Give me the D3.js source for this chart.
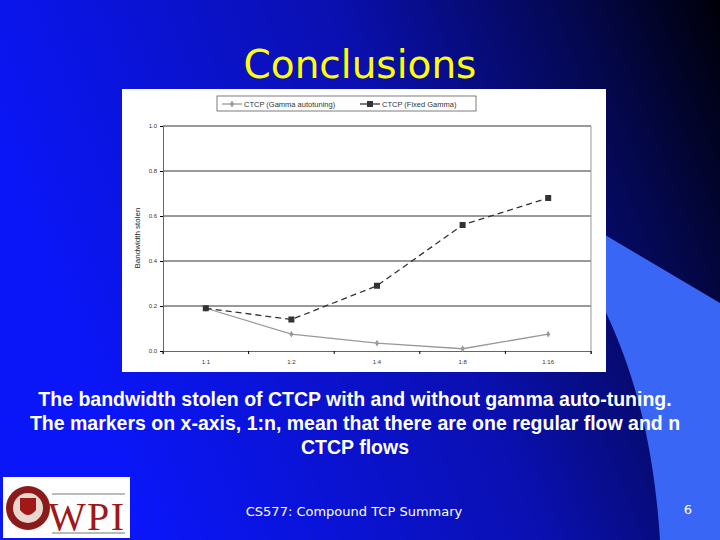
<!DOCTYPE html>
<html><head><meta charset="utf-8">
<script src="https://cdn.jsdelivr.net/npm/d3@7"></script>
<style>body{margin:0}svg{display:block}</style>
</head><body>
<svg id="slide" width="720" height="540"></svg>
<script>
const categories = ["1:1", "1:2", "1:4", "1:8", "1:16"];
const autoTuning = [0.19, 0.075, 0.035, 0.01, 0.075];
const fixedGamma = [0.19, 0.14, 0.29, 0.56, 0.68];
const yTicks = [0, 0.2, 0.4, 0.6, 0.8, 1.0];

const svg = d3.select("#slide");
const defs = svg.append("defs");
const grad = defs.append("linearGradient").attr("id", "bg").attr("x1", 0).attr("x2", 1).attr("y1", 0.3).attr("y2", 0);
grad.append("stop").attr("offset", "0%").attr("stop-color", "#0a16f8");
grad.append("stop").attr("offset", "50%").attr("stop-color", "#0a10b0");
grad.append("stop").attr("offset", "80%").attr("stop-color", "#040850");
grad.append("stop").attr("offset", "100%").attr("stop-color", "#000008");
svg.append("rect").attr("width", 720).attr("height", 540).attr("fill", "url(#bg)");

// light blue swoosh at lower right
svg.append("path")
    .attr("d", "M600,232 L720,303 L720,540 L660,540 C655,460 640,380 600,300 Z")
    .attr("fill", "#3a66f5");

svg.append("text").attr("x", 360).attr("y", 78).attr("text-anchor", "middle")
    .attr("fill", "#ffff00").style("font-family", "'Comic Sans MS','DejaVu Sans'")
    .style("font-size", "39px").text("Conclusions");

// chart picture
svg.append("rect").attr("x", 122).attr("y", 89).attr("width", 484).attr("height", 283).attr("fill", "#fff");

const x = d3.scaleBand().domain(categories).range([163, 591]);
const y = d3.scaleLinear().domain([0, 1]).range([351, 126]);
const g = svg.append("g");

g.selectAll("line.grid").data(yTicks.slice(1)).join("line").attr("class", "grid")
    .attr("x1", 163).attr("x2", 591).attr("y1", y).attr("y2", y)
    .attr("stroke", "#000").attr("stroke-width", 0.8);
g.append("line").attr("x1", 591).attr("x2", 591).attr("y1", 126).attr("y2", 351).attr("stroke", "#999");

const yAxis = g.append("g").attr("transform", "translate(163,0)")
    .call(d3.axisLeft(y).tickValues(yTicks).tickFormat(d3.format(".1f")).tickSize(3));
const xAxis = g.append("g").attr("transform", "translate(0,351)")
    .call(d3.axisBottom(x).tickSize(3));
xAxis.selectAll(".tick line").attr("transform", `translate(${-x.bandwidth() / 2},0)`);
xAxis.append("line").attr("x1", 591).attr("x2", 591).attr("y1", 0).attr("y2", 3).attr("stroke", "#000");
[yAxis, xAxis].forEach(a => {
    a.selectAll("text").style("font-family", "Arial, 'Liberation Sans'").style("font-size", "6px").attr("fill", "#333");
    a.select(".domain").attr("stroke", "#666");
});
xAxis.selectAll("text").attr("dy", "1.2em");

g.append("text").attr("transform", "translate(140,238) rotate(-90)").attr("text-anchor", "middle")
    .style("font-family", "Arial, 'Liberation Sans'").style("font-size", "8px").attr("fill", "#222").text("Bandwidth stolen");

const cx = d => x(d) + x.bandwidth() / 2;
const line = d3.line().x((d, i) => cx(categories[i])).y(d => y(d));
g.append("path").datum(autoTuning).attr("d", line).attr("fill", "none").attr("stroke", "#999").attr("stroke-width", 1.3);
g.append("path").datum(fixedGamma).attr("d", line).attr("fill", "none").attr("stroke", "#333")
    .attr("stroke-width", 1.3).attr("stroke-dasharray", "6,4");
g.selectAll("path.dia").data(autoTuning).join("path").attr("class", "dia")
    .attr("transform", (d, i) => `translate(${cx(categories[i])},${y(d)})`)
    .attr("d", d3.symbol(d3.symbolDiamond, 14)).attr("fill", "#999");
g.selectAll("rect.sq").data(fixedGamma).join("rect").attr("class", "sq")
    .attr("x", (d, i) => cx(categories[i]) - 3).attr("y", d => y(d) - 3)
    .attr("width", 6).attr("height", 6).attr("fill", "#333");

// legend
const lg = g.append("g").style("font-family", "Arial, 'Liberation Sans'").style("font-size", "7.5px");
lg.append("rect").attr("x", 217).attr("y", 96).attr("width", 259).attr("height", 15).attr("fill", "#fff").attr("stroke", "#444").attr("stroke-width", 0.7);
lg.append("line").attr("x1", 222).attr("x2", 242).attr("y1", 104).attr("y2", 104).attr("stroke", "#999").attr("stroke-width", 1.3);
lg.append("path").attr("transform", "translate(232,104)").attr("d", d3.symbol(d3.symbolDiamond, 14)).attr("fill", "#999");
lg.append("text").attr("x", 244).attr("y", 107).attr("fill", "#333").text("CTCP (Gamma autotuning)");
lg.append("line").attr("x1", 360).attr("x2", 380).attr("y1", 104).attr("y2", 104).attr("stroke", "#333").attr("stroke-width", 1.3);
lg.append("rect").attr("x", 367).attr("y", 101).attr("width", 6).attr("height", 6).attr("fill", "#333");
lg.append("text").attr("x", 382).attr("y", 107).attr("fill", "#333").text("CTCP (Fixed Gamma)");

// caption
const cap = ["The bandwidth stolen of CTCP with and without gamma auto-tuning.",
    "The markers on x-axis, 1:n, mean that there are one regular flow and n",
    "CTCP flows"];
svg.selectAll("text.cap").data(cap).join("text").attr("class", "cap")
    .attr("x", 355).attr("y", (d, i) => 406 + i * 24).attr("text-anchor", "middle")
    .attr("fill", "#fff").style("font-family", "Arial, 'Liberation Sans'").style("font-weight", "bold")
    .style("font-size", "19.5px").text(d => d);

// footer
svg.append("rect").attr("x", 3).attr("y", 477).attr("width", 127).attr("height", 61).attr("fill", "#fff");
svg.append("circle").attr("cx", 28).attr("cy", 508).attr("r", 22).attr("fill", "#8b1a1a");
svg.append("circle").attr("cx", 28).attr("cy", 508).attr("r", 15).attr("fill", "#e8d8d0");
svg.append("path").attr("d", "M20,498 L36,498 L36,510 Q28,520 20,510 Z").attr("fill", "#a01818");
svg.append("text").attr("x", 86).attr("y", 530).attr("text-anchor", "middle").attr("fill", "#a01818")
    .style("font-family", "'Liberation Serif', serif").style("font-size", "40px").attr("textLength", 76).text("WPI");
svg.append("line").attr("x1", 52).attr("x2", 125).attr("y1", 494).attr("y2", 494).attr("stroke", "#777");
svg.append("line").attr("x1", 52).attr("x2", 125).attr("y1", 533).attr("y2", 533).attr("stroke", "#777");

svg.append("text").attr("x", 354).attr("y", 516).attr("text-anchor", "middle").attr("fill", "#fff")
    .style("font-family", "'Comic Sans MS','DejaVu Sans'").style("font-size", "13px").text("CS577:  Compound TCP Summary");
svg.append("text").attr("x", 688).attr("y", 514).attr("text-anchor", "middle").attr("fill", "#fff")
    .style("font-family", "'Comic Sans MS','DejaVu Sans'").style("font-size", "13px").text("6");
</script>
</body></html>
